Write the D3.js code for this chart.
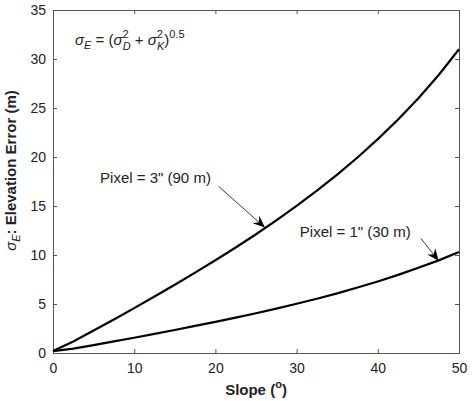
<!DOCTYPE html>
<html>
<head>
<meta charset="utf-8">
<script src="https://cdn.jsdelivr.net/npm/d3@7/dist/d3.min.js"></script>
<style>
  body { margin: 0; background: #fff; }
  svg { font-family: "Liberation Sans", Arial, sans-serif; }
</style>
</head>
<body>
<div id="chart"></div>
<script>
// ------- data -------
const slopes = [0, 2.5, 5, 7.5, 10, 12.5, 15, 17.5, 20, 22.5, 25, 27.5, 30, 32.5, 35, 37.5, 40, 42.5, 45, 47.5, 50];
const err90m = [0.2, 1.18, 2.29, 3.42, 4.58, 5.76, 6.97, 8.2, 9.46, 10.77, 12.12, 13.53, 15.01, 16.56, 18.21, 19.95, 21.82, 23.82, 26.0, 28.37, 30.99];
const err30m = [0.2, 0.44, 0.8, 1.18, 1.56, 1.95, 2.35, 2.76, 3.18, 3.61, 4.06, 4.53, 5.02, 5.54, 6.09, 6.68, 7.3, 7.97, 8.7, 9.45, 10.3];
const xTicks = [0, 10, 20, 30, 40, 50];
const yTicks = [0, 5, 10, 15, 20, 25, 30, 35];
// annotation: label, text anchor point, arrow tail, arrow tip (data units)
const notes = [
  { label: 'Pixel = 3" (90 m)', at: [5.8, 17.3], from: [20.4, 17.0], to: [26.1, 12.8] },
  { label: 'Pixel = 1" (30 m)', at: [30.4, 11.8], from: [45.3, 11.7], to: [47.5, 9.4] }
];

const W = 474, H = 401;
const margin = { left: 53, right: 15, top: 10, bottom: 48 };

let svg = d3.select("#chart").append("svg")
    .attr("width", W)
    .attr("height", H);

let xScale = d3.scaleLinear().domain([0, 50]).range([margin.left, W - margin.right]);
let yScale = d3.scaleLinear().domain([0, 35]).range([H - margin.bottom, margin.top]);

// ------- axes (MATLAB style box, inward ticks) -------
const tickLen = 4;
const axisColor = "#555";
svg.append("g")
   .attr("transform", `translate(0,${H - margin.bottom})`)
   .call(d3.axisBottom(xScale).tickValues(xTicks).tickSize(-tickLen).tickPadding(10))
   .call(g => g.selectAll("text").attr("font-size", 14).attr("fill", "#222"));
svg.append("g")
   .attr("transform", `translate(0,${margin.top})`)
   .call(d3.axisTop(xScale).tickValues(xTicks).tickSize(-tickLen).tickFormat(""));
svg.append("g")
   .attr("transform", `translate(${margin.left},0)`)
   .call(d3.axisLeft(yScale).tickValues(yTicks).tickSize(-tickLen).tickPadding(7))
   .call(g => g.selectAll("text").attr("font-size", 14).attr("fill", "#222"));
svg.append("g")
   .attr("transform", `translate(${W - margin.right},0)`)
   .call(d3.axisRight(yScale).tickValues(yTicks).tickSize(-tickLen).tickFormat(""));
svg.selectAll(".domain").attr("stroke", axisColor);
svg.selectAll(".tick line").attr("stroke", axisColor);

// ------- curves -------
let line = d3.line()
    .x(d => xScale(d[0]))
    .y(d => yScale(d[1]));

[err90m, err30m].forEach(series => {
  svg.append("path")
     .datum(slopes.map((s, i) => [s, series[i]]))
     .attr("d", line)
     .attr("fill", "none")
     .attr("stroke", "#000")
     .attr("stroke-width", 2.2)
     .attr("stroke-linejoin", "round");
});

// ------- annotations -------
notes.forEach(n => {
  svg.append("text")
     .attr("x", xScale(n.at[0]))
     .attr("y", yScale(n.at[1]))
     .attr("font-size", 15)
     .attr("fill", "#222")
     .text(n.label);
  let x1 = xScale(n.from[0]), y1 = yScale(n.from[1]);
  let x2 = xScale(n.to[0]), y2 = yScale(n.to[1]);
  svg.append("line")
     .attr("x1", x1).attr("y1", y1).attr("x2", x2).attr("y2", y2)
     .attr("stroke", "#222").attr("stroke-width", 0.9);
  let ang = Math.atan2(y2 - y1, x2 - x1) * 180 / Math.PI;
  svg.append("path")
     .attr("d", "M0,0 L-12,-5 L-8,0 L-12,5 Z")
     .attr("transform", `translate(${x2},${y2}) rotate(${ang})`)
     .attr("fill", "#000");
});

// ------- formula -------
let f = svg.append("text")
    .attr("x", 75).attr("y", 45)
    .attr("font-size", 15)
    .attr("fill", "#222");
f.append("tspan").attr("font-style", "italic").text("σ");
f.append("tspan").attr("font-size", 11).attr("font-style", "italic").attr("dy", 4).text("E");
f.append("tspan").attr("dy", -4).text(" = (");
f.append("tspan").attr("font-style", "italic").text("σ");
f.append("tspan").attr("font-size", 11).attr("dy", -7).text("2");
f.append("tspan").attr("font-size", 11).attr("font-style", "italic").attr("dx", -6).attr("dy", 12).text("D");
f.append("tspan").attr("dy", -5).text(" + ");
f.append("tspan").attr("font-style", "italic").text("σ");
f.append("tspan").attr("font-size", 11).attr("dy", -7).text("2");
f.append("tspan").attr("font-size", 11).attr("font-style", "italic").attr("dx", -6).attr("dy", 12).text("K");
f.append("tspan").attr("dy", -5).text(")");
f.append("tspan").attr("font-size", 11).attr("dy", -7).text("0.5");

// ------- axis labels -------
let xl = svg.append("text")
    .attr("x", (xScale(0) + xScale(50)) / 2)
    .attr("y", 395)
    .attr("text-anchor", "middle")
    .attr("font-size", 15)
    .attr("font-weight", "bold")
    .attr("fill", "#222");
xl.append("tspan").text("Slope (");
xl.append("tspan").attr("font-size", 11).attr("dy", -7).text("o");
xl.append("tspan").attr("dy", 7).text(")");

let yl = svg.append("text")
    .attr("transform", `translate(16,${(yScale(0) + yScale(35)) / 2 - 11}) rotate(-90)`)
    .attr("text-anchor", "middle")
    .attr("font-size", 15)
    .attr("font-weight", "bold")
    .attr("fill", "#222");
yl.append("tspan").attr("font-style", "italic").attr("font-weight", "normal").text("σ");
yl.append("tspan").attr("font-size", 11).attr("font-style", "italic").attr("font-weight", "normal").attr("dy", 4).text("E");
yl.append("tspan").attr("dy", -4).text(": Elevation Error (m)");
</script>
</body>
</html>
